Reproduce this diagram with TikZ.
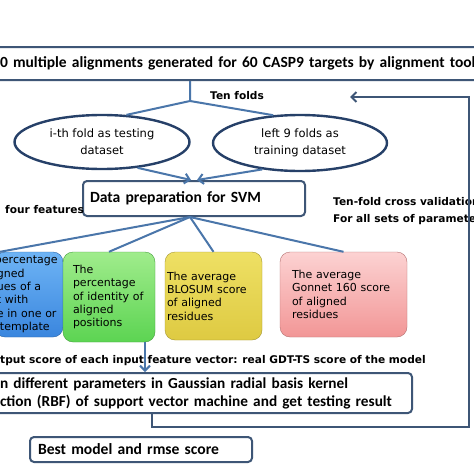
\documentclass[tikz,border=0pt]{standalone}
\usepackage{fontspec}
\setmainfont{Carlito}
\newfontfamily\tahoma{DejaVu Sans}
\usetikzlibrary{shapes.geometric,arrows.meta}

\definecolor{boxline}{RGB}{62,86,118}
\definecolor{linkblue}{RGB}{74,118,170}
\definecolor{foldline}{RGB}{38,64,104}
\definecolor{bluetop}{RGB}{110,180,245}
\definecolor{bluebot}{RGB}{58,134,222}
\definecolor{greentop}{RGB}{160,236,140}
\definecolor{greenbot}{RGB}{92,212,82}
\definecolor{yellowtop}{RGB}{238,224,100}
\definecolor{yellowbot}{RGB}{222,202,66}
\definecolor{pinktop}{RGB}{252,210,210}
\definecolor{pinkbot}{RGB}{242,150,150}

\begin{document}
\begin{tikzpicture}[x=1pt,y=-1pt,
  flow/.style={draw=boxline, line width=2pt, rounded corners=4pt, align=left, inner ysep=0pt, fill=white},
  fold/.style={ellipse, draw=foldline, line width=2.4pt, align=center, inner sep=0pt, fill=white, font=\tahoma\fontsize{11.5}{17}\selectfont},
  feat/.style={rounded corners=10pt, align=left, inner ysep=0pt, shading=axis, font=\tahoma\fontsize{11}{13.4}\selectfont},
  link/.style={draw=linkblue, line width=2pt},
  arrowed/.style={-{Straight Barb[length=5pt,width=10pt]}},
  note/.style={font=\tahoma\bfseries\fontsize{10.6}{12}\selectfont, anchor=west, inner sep=0pt}]
            \fill[white] (0,0) rectangle (474,474);
            \useasboundingbox (0,0) rectangle (474,474);
            \clip (0,0) rectangle (474,474);

            \node[flow, minimum width=560pt, minimum height=33pt, text width=540pt, inner xsep=10pt, font=\bfseries\fontsize{15.5}{18}\selectfont] (casp) at (270,63.5) {0 multiple alignments generated for 60 CASP9 targets by alignment tool};
            \node[note] (tenfolds) at (210,96) {Ten folds};
            \node[fold, minimum width=175pt, minimum height=54pt] (testfold) at (102,142) {i-th fold as testing\\dataset};
            \node[fold, minimum width=174pt, minimum height=56pt] (trainfold) at (300,143) {left 9 folds as\\training dataset};
            \node[flow, minimum width=222pt, minimum height=35pt, text width=208pt, inner xsep=7pt, font=\bfseries\fontsize{15.6}{18}\selectfont] (prep) at (194,198.5) {Data preparation for SVM};

            \node[note] (four) at (5,210) {four features};
            \node[note] (crossval) at (333,202) {Ten-fold cross validation};
            \node[note] (allsets) at (333,220) {For all sets of parameters};

            \node[feat, top color=bluetop, bottom color=bluebot, draw=bluebot!75!black, minimum width=68pt, minimum height=85pt, text width=64pt, inner xsep=2pt] (featA) at (29,294.5) {\hspace*{-2pt}percentage\\gned\\ues of a\\t with\\e in one or\\\hspace*{3pt}template};
            \node[feat, top color=greentop, bottom color=greenbot, draw=greenbot!75!black, minimum width=92pt, minimum height=90pt, text width=72pt, inner xsep=10pt] (featB) at (109,297) {The\\percentage\\of identity of\\aligned\\positions};
            \node[feat, top color=yellowtop, bottom color=yellowbot, draw=yellowbot!75!black, minimum width=97pt, minimum height=88pt, text width=93pt, inner xsep=2pt] (featC) at (213.5,296) {The average\\BLOSUM score\\of aligned\\residues};
            \node[feat, top color=pinktop, bottom color=pinkbot, draw=pinkbot!75!black, minimum width=127pt, minimum height=85pt, text width=103pt, inner xsep=12pt] (featD) at (343.5,294.5) {The average\\Gonnet 160 score\\of aligned\\residues};

            \node[note] (output) at (0,361) {tput score of each input feature vector: real GDT-TS score of the model};
            \node[flow, minimum width=420pt, minimum height=40pt, text width=404pt, inner xsep=8pt, font=\bfseries\fontsize{15.3}{18}\selectfont] (rbf) at (202,393) {n different parameters in Gaussian radial basis kernel\\ction (RBF) of support vector machine and get testing result};
            \node[flow, minimum width=222pt, minimum height=25pt, text width=206pt, inner xsep=8pt, font=\bfseries\fontsize{15.6}{18}\selectfont] (best) at (141,449.5) {Best model and rmse score};

            \coordinate (fork) at (190,101);
            \draw[link] (fork |- casp.south) -- (fork) -- (testfold.48);
            \draw[link] (fork) -- (trainfold.134);
            \draw[link, arrowed] (testfold.-36) -- ([xshift=-3pt]prep.north);
            \draw[link, arrowed] (trainfold.-145) -- ([xshift=3pt]prep.north);

            \coordinate (split) at ([xshift=-4pt]prep.south);
            \draw[link] (split) -- ([xshift=-29pt]featA.north);
            \draw[link] (split) -- (featB.north);
            \draw[link] (split) -- (featC.north);
            \draw[link] (split) -- (featD.north);
            \draw[link, arrowed] ([xshift=36pt]featB.south) -- ([xshift=36pt]featB.south |- rbf.north);

            \coordinate (loopbottom) at (469,427);
            \coordinate (loopend) at (350,97);
            \draw[link, draw=boxline, arrowed] ([xshift=-50pt]rbf.south) |- (loopbottom) |- (loopend);
\end{tikzpicture}
\end{document}
